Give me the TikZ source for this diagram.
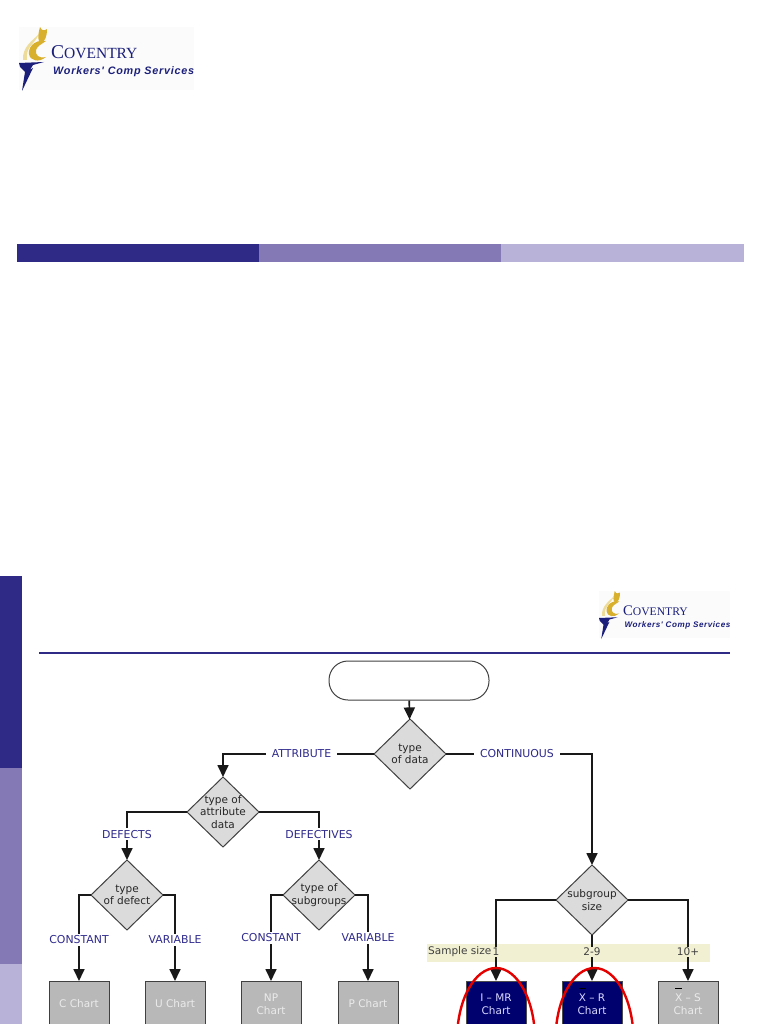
\documentclass[tikz,border=0pt]{standalone}
\usepackage{fontspec}
\setmainfont{DejaVu Sans}
\newfontfamily\logoserif{Liberation Serif}
\newfontfamily\logosans[LetterSpace=7]{Liberation Sans}
\usetikzlibrary{shapes.geometric,arrows.meta}
\definecolor{barnavy}{HTML}{2E2A86}
\definecolor{barmid}{HTML}{8479B4}
\definecolor{barlight}{HTML}{B8B2D9}
\definecolor{labelblue}{HTML}{2F2A8C}
\definecolor{chartnavy}{HTML}{00006E}
\definecolor{chartgrey}{HTML}{B8B8B8}
\definecolor{samplebg}{HTML}{F1F0D2}
\definecolor{flamegold}{HTML}{D9B02E}
\definecolor{flamepale}{HTML}{EEDD9A}
\definecolor{logonavy}{HTML}{1B1F7A}
\newcommand{\xbarmark}{\makebox[0pt][l]{\smash{\raisebox{13pt}{\textcolor{black}{\rule{7pt}{0.8pt}}}}}X}
\tikzset{
  decision/.style={shape=diamond,draw=black!75,line width=1pt,fill=black!14,outer sep=0pt,
    minimum width=72pt,minimum height=70pt,inner sep=-5pt,align=center,text=black!85},
  chart/.style={draw=black!75,line width=1pt,fill=chartgrey,text=white!92!black,
    minimum width=60pt,minimum height=45pt,inner sep=0pt,align=center,anchor=north},
  navychart/.style={chart,fill=chartnavy,draw=black!70,text=white!85!blue},
  flow/.style={line width=1.7pt,draw=black!90,-{Triangle[width=11pt,length=12pt]}},
  flowlabel/.style={fill=white,text=labelblue,inner xsep=6pt,inner ysep=2pt,font=\fontsize{10.9}{12.5}\selectfont},
  samplelabel/.style={fill=samplebg,text=black!75,inner sep=1pt},
  coventrylogo/.pic={
    \fill[black!1.5] (0,0) rectangle (175,63);
    \fill[flamepale] (4,33) .. controls (3,20) and (14,13) .. (20,7)
      .. controls (16,17) and (6,20) .. (8,33) -- cycle;
    \fill[flamegold] (27,14) .. controls (14,12) and (9,22) .. (10,27)
      .. controls (11,34) and (20,36) .. (27,30)
      .. controls (20,32) and (16,28) .. (17,23)
      .. controls (18,19) and (23,17) .. (27,14) -- cycle;
    \fill[flamegold] (21,0) .. controls (23,4) and (25,4) .. (28,2)
      .. controls (28,10) and (26,14) .. (22,16)
      .. controls (18,14) and (19,8) .. (21,0) -- cycle;
    \fill[logonavy] (0,36) -- (25,35) -- (14,38) -- (11,43) -- (14,41) -- (3,64)
      -- (6,45) -- (1,40) -- cycle;
    \node[transform shape,anchor=base west,inner sep=0pt,text=logonavy] (coventryname) at (32,32)
      {\logoserif\fontsize{19.5}{19.5}\selectfont C\fontsize{15.5}{15.5}\selectfont OVENTRY};
    \node[transform shape,anchor=base west,inner sep=0pt,text=logonavy] (coventrysub) at (34,48)
      {\logosans\bfseries\itshape\fontsize{10.8}{10.8}\selectfont Workers' Comp Services};
  }
}
\begin{document}
\begin{tikzpicture}[x=1pt,y=-1pt,font=\fontsize{10.5}{12.5}\selectfont]
  \path[use as bounding box,clip] (0,0) rectangle (768,1024);
  % logos
  \pic at (19,27) {coventrylogo};
  \pic[scale=.75] at (599,591) {coventrylogo};
  % title bar
  \fill[barnavy] (17,244) rectangle (259,262);
  \fill[barmid] (259,244) rectangle (501,262);
  \fill[barlight] (501,244) rectangle (744,262);
  % side band
  \fill[barnavy] (0,576) rectangle (22,768);
  \fill[barmid] (0,768) rectangle (22,964);
  \fill[barlight] (0,964) rectangle (22,1024);
  \draw[barnavy,line width=1.5pt] (39,653) -- (730,653);
  % sample size strip
  \fill[samplebg] (427,944) rectangle (710,962);
  % flow chart
  \node[draw=black!75,line width=1pt,rounded corners=19pt,minimum width=160pt,minimum height=39pt] (start) at (409,680.5) {};
  \node[decision] (typedata) at (410,754) {type\\of data};
  \node[decision] (attrdata) at (223,812) {type of\\attribute\\data};
  \node[decision] (defect) at (127,895) {type\\of defect};
  \node[decision] (subgroups) at (319,895) {type of\\subgroups};
  \node[decision] (groupsize) at (592,900) {subgroup\\size};
  \node[chart] (cchart) at (79,981) {C Chart};
  \node[chart] (uchart) at (175,981) {U Chart};
  \node[chart] (npchart) at (271,981) {NP\\Chart};
  \node[chart] (pchart) at (368,981) {P Chart};
  \node[navychart] (imrchart) at (496,981) {I -- MR\\Chart};
  \node[navychart] (xrchart) at (592,981) {\xbarmark{} -- R\\Chart};
  \node[chart] (xschart) at (688,981) {\xbarmark{} -- S\\Chart};
  \draw[flow] (start) -- (typedata);
  \draw[flow] (typedata.west) -| node[flowlabel,pos=.24] (attrlabel) {ATTRIBUTE} (attrdata.north);
  \draw[flow] (typedata.east) -| node[flowlabel,pos=.243] (contlabel) {CONTINUOUS} (groupsize.north);
  \draw[flow] (attrdata.west) -| node[flowlabel,pos=.73] (defectslabel) {DEFECTS} (defect.north);
  \draw[flow] (attrdata.east) -| node[flowlabel,pos=.73] (defectiveslabel) {DEFECTIVES} (subgroups.north);
  \draw[flow] (defect.west) -| node[flowlabel,pos=.76,inner xsep=2pt] (constlabela) {CONSTANT} (cchart.north);
  \draw[flow] (defect.east) -| node[flowlabel,pos=.76,inner xsep=2pt] (varlabela) {VARIABLE} (uchart.north);
  \draw[flow] (subgroups.west) -| node[flowlabel,pos=.75,inner xsep=2pt] (constlabelb) {CONSTANT} (npchart.north);
  \draw[flow] (subgroups.east) -| node[flowlabel,pos=.75,inner xsep=2pt] (varlabelb) {VARIABLE} (pchart.north);
  \draw[flow] (groupsize.west) -| node[samplelabel,pos=.82] (sizeone) {1} (imrchart.north);
  \draw[flow] (groupsize.south) -- node[samplelabel,pos=.37] (sizenine) {2-9} (xrchart.north);
  \draw[flow] (groupsize.east) -| node[samplelabel,pos=.82] (sizeten) {10+} (xschart.north);
  \node[samplelabel,fill=none,anchor=west,inner sep=0pt] (samplesize) at (428,952) {Sample size};
  % red rings
  \draw[red!90!black,line width=2.4pt] (496,1040) ellipse (39 and 72);
  \draw[red!90!black,line width=2.4pt] (594.5,1040) ellipse (39 and 72);
\end{tikzpicture}
\end{document}
